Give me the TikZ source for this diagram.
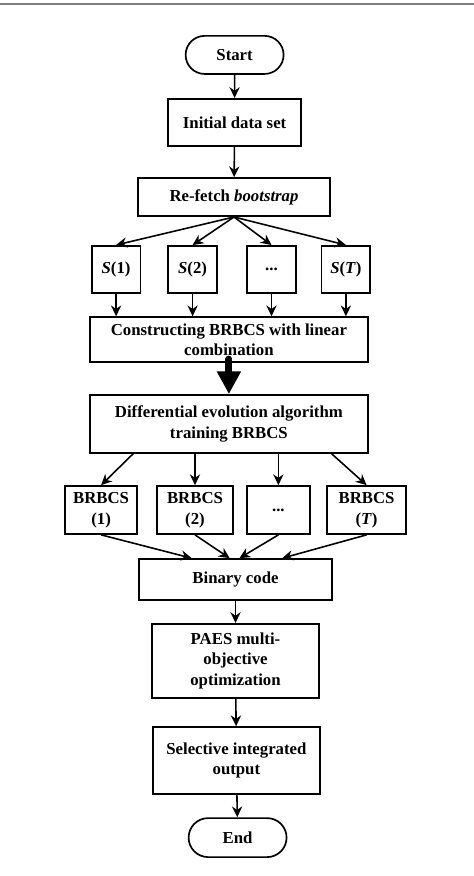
\documentclass[tikz,border=0pt]{standalone}
\usepackage{fontspec}
\setmainfont{Liberation Serif}
\usetikzlibrary{arrows.meta,shapes.misc,calc}

\begin{document}
\begin{tikzpicture}[
    font=\fontsize{15.9}{19.6}\selectfont\bfseries,
    box/.style={draw, line width=1.6pt, inner sep=2pt, align=center},
    term/.style={draw, line width=1.6pt, rounded rectangle, minimum width=3.5cm, minimum height=1.27cm},
    arr/.style={-{Stealth[length=3.6mm,width=3.4mm]}, line width=1.5pt},
    bigarr/.style={-{Triangle[length=7.6mm,width=7.6mm]}, line width=6.5pt, line cap=round}
]
    \useasboundingbox (0,0) rectangle (15.8,-29.2);
    \draw[gray, line width=1.5pt] (0,-0.13) -- (15.8,-0.13);

    % Top: start and sampling
    \node[term] (start) at (7.82,-1.83) {Start};
    \node[box, minimum width=4.43cm, minimum height=1.57cm] (init) at (7.82,-4.08) {Initial data set};
    \node[box, minimum width=6.4cm, minimum height=1.27cm] (boot) at (7.8,-6.57) {Re-fetch \textit{bootstrap}};

    \node[box, minimum width=1.62cm, minimum height=1.57cm] (s1) at (3.87,-8.98) {\textit{S}(1)};
    \node[box, minimum width=1.62cm, minimum height=1.57cm] (s2) at (6.42,-8.98) {\textit{S}(2)};
    \node[box, minimum width=1.62cm, minimum height=1.57cm] (s3) at (9.05,-8.98) {...};
    \node[box, minimum width=1.62cm, minimum height=1.57cm] (sT) at (11.53,-8.98) {\textit{S}(\textit{T})};

    \draw[arr] (start) -- (init);
    \draw[arr] (init) -- (boot);
    \draw[arr] (boot.south) -- (s1.north);
    \draw[arr] (boot.south) -- (s2.north);
    \draw[arr] (boot.south) -- (s3.north);
    \draw[arr] (boot.south) -- (sT.north);

    % Middle: building and training
    \node[box, minimum width=9.27cm, minimum height=1.5cm] (cons) at (7.63,-11.32) {Constructing BRBCS with linear\\combination};
    \node[box, minimum width=9.27cm, minimum height=1.93cm] (de) at (7.63,-14.13) {Differential evolution algorithm\\training BRBCS};

    \draw[arr] (s1.south) -- (s1.south |- cons.north);
    \draw[arr] (s2.south) -- (s2.south |- cons.north);
    \draw[arr] (s3.south) -- (s3.south |- cons.north);
    \draw[arr] (sT.south) -- (sT.south |- cons.north);
    \draw[bigarr] ($(cons.south)+(0,0.13)$) -- (de.north);

    \node[box, minimum width=2.4cm, minimum height=1.6cm] (b1) at (3.37,-17) {BRBCS\\(1)};
    \node[box, minimum width=2.53cm, minimum height=1.6cm] (b2) at (6.5,-17) {BRBCS\\(2)};
    \node[box, minimum width=2.1cm, minimum height=1.6cm] (b3) at (9.28,-17) {...};
    \node[box, minimum width=2.63cm, minimum height=1.6cm] (bT) at (12.22,-17) {BRBCS\\(\textit{T})};

    \draw[arr] ($(de.south west)!0.158!(de.south east)$) -- (b1.north);
    \draw[arr] (b2.north |- de.south) -- (b2.north);
    \draw[arr] (b3.north |- de.south) -- (b3.north);
    \draw[arr] ($(de.south west)!0.867!(de.south east)$) -- (bT.north);

    % Bottom: selection and output
    \node[box, minimum width=6.43cm, minimum height=1.37cm] (bin) at (7.85,-19.32) {Binary code};
    \node[box, minimum width=5.57cm, minimum height=2.47cm] (paes) at (7.85,-22.03) {PAES multi-\\objective\\optimization};
    \node[box, minimum width=5.57cm, minimum height=2.23cm] (sel) at (7.88,-25.35) {Selective integrated\\output};
    \node[term, minimum height=1.3cm] (end) at (7.92,-27.92) {End};

    \draw[arr] (b1.south) -- ($(bin.north west)!0.275!(bin.north east)$);
    \draw[arr] (b2.south) -- ($(bin.north west)!0.47!(bin.north east)$);
    \draw[arr] (b3.south) -- ($(bin.north west)!0.52!(bin.north east)$);
    \draw[arr] (bT.south) -- ($(bin.north west)!0.74!(bin.north east)$);
    \draw[arr] (bin) -- (paes);
    \draw[arr] (paes) -- (sel);
    \draw[arr] (sel) -- (end);
\end{tikzpicture}
\end{document}
